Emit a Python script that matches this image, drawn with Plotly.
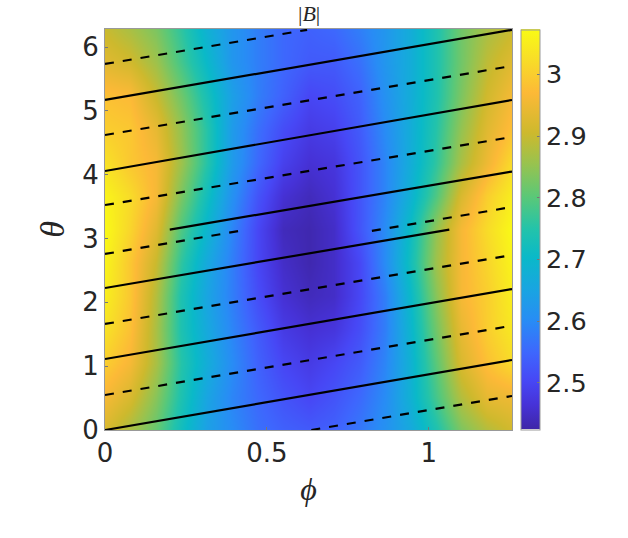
import plotly.graph_objects as go

W, H = 628, 538
L, R, T, B = 105.3, 511.7, 29.3, 430.0

phi = [0, 0.0785, 0.1571, 0.2356, 0.3142, 0.3927, 0.4712, 0.5498, 0.6283,
       0.7069, 0.7854, 0.8639, 0.9425, 1.0210, 1.0996, 1.1781, 1.2566]
theta = [0, 0.5236, 1.0472, 1.5708, 2.0944, 2.6180, 3.1416, 3.6652, 4.1888,
         4.7124, 5.2360, 5.7596, 6.2832]
B_mag = [
    [2.92, 2.87, 2.81, 2.72, 2.64, 2.60, 2.56, 2.54, 2.53, 2.54, 2.57, 2.61, 2.66, 2.74, 2.83, 2.88, 2.91],
    [2.96, 2.92, 2.84, 2.74, 2.65, 2.59, 2.55, 2.52, 2.50, 2.52, 2.55, 2.60, 2.68, 2.78, 2.88, 2.94, 2.95],
    [3.00, 2.96, 2.87, 2.75, 2.67, 2.60, 2.54, 2.50, 2.48, 2.50, 2.53, 2.59, 2.68, 2.80, 2.92, 2.98, 3.02],
    [3.03, 2.98, 2.87, 2.74, 2.66, 2.59, 2.53, 2.48, 2.46, 2.47, 2.51, 2.58, 2.69, 2.82, 2.94, 3.00, 3.04],
    [3.05, 2.99, 2.88, 2.74, 2.65, 2.58, 2.51, 2.46, 2.44, 2.45, 2.50, 2.58, 2.70, 2.84, 2.96, 3.00, 3.05],
    [3.06, 2.99, 2.90, 2.76, 2.66, 2.58, 2.50, 2.45, 2.43, 2.45, 2.50, 2.60, 2.72, 2.86, 2.96, 3.01, 3.06],
    [3.07, 3.01, 2.93, 2.79, 2.69, 2.59, 2.50, 2.44, 2.43, 2.45, 2.52, 2.60, 2.71, 2.85, 2.96, 3.02, 3.07],
    [3.06, 3.02, 2.96, 2.83, 2.72, 2.61, 2.52, 2.46, 2.44, 2.46, 2.52, 2.59, 2.68, 2.79, 2.92, 3.00, 3.05],
    [3.03, 2.99, 2.96, 2.86, 2.75, 2.63, 2.55, 2.49, 2.46, 2.47, 2.52, 2.59, 2.67, 2.76, 2.87, 2.95, 3.02],
    [3.00, 2.99, 2.94, 2.85, 2.75, 2.63, 2.56, 2.51, 2.48, 2.49, 2.53, 2.60, 2.67, 2.75, 2.85, 2.93, 2.98],
    [2.98, 2.97, 2.90, 2.82, 2.73, 2.64, 2.58, 2.54, 2.50, 2.51, 2.54, 2.61, 2.67, 2.74, 2.83, 2.91, 2.96],
    [2.93, 2.91, 2.86, 2.78, 2.70, 2.62, 2.58, 2.55, 2.53, 2.53, 2.56, 2.62, 2.67, 2.74, 2.82, 2.89, 2.93],
    [2.90, 2.87, 2.83, 2.76, 2.68, 2.62, 2.58, 2.55, 2.54, 2.55, 2.58, 2.62, 2.67, 2.74, 2.82, 2.87, 2.90],
]

solid_phi = [[0, 1.2566], [0, 1.2566], [0, 1.063], [0.2, 1.2566], [0, 1.2566], [0, 1.2566]]
solid_theta = [[0, 1.097], [1.112, 2.209], [2.225, 3.14], [3.14, 4.05], [4.058, 5.171], [5.171, 6.27]]
dashed_phi = [[0.637, 1.2566], [0, 1.2566], [0, 1.2566], [0, 0.416], [0.824, 1.2566], [0, 1.2566], [0, 1.2566], [0, 0.624]]
dashed_theta = [[0, 0.533], [0.548, 1.634], [1.661, 2.742], [2.758, 3.12], [3.12, 3.494], [3.525, 4.591], [4.622, 5.704], [5.735, 6.27]]

x_ticks = [0, 0.5, 1]
x_tick_text = ["0", "0.5", "1"]
y_ticks = [0, 1, 2, 3, 4, 5, 6]
cb_ticks = [2.5, 2.6, 2.7, 2.8, 2.9, 3.0]
cb_tick_text = ["2.5", "2.6", "2.7", "2.8", "2.9", "3"]

parula = [
    [0.00, "rgb(62,38,168)"], [0.06, "rgb(70,50,215)"], [0.12, "rgb(71,71,245)"],
    [0.19, "rgb(62,102,253)"], [0.27, "rgb(40,140,245)"], [0.35, "rgb(25,165,225)"],
    [0.43, "rgb(10,185,200)"], [0.50, "rgb(35,195,170)"], [0.58, "rgb(90,200,120)"],
    [0.66, "rgb(150,195,80)"], [0.74, "rgb(205,185,45)"], [0.84, "rgb(252,185,55)"],
    [0.92, "rgb(248,220,40)"], [1.00, "rgb(249,251,21)"],
]

FONT = "DejaVu Sans"
INK = "#262626"
pw = R - L
ph = B - T
fig = go.Figure()
fig.add_trace(go.Heatmap(
    x=phi, y=theta, z=B_mag, zmin=2.424, zmax=3.073, zsmooth="best",
    colorscale=parula, showscale=True,
    colorbar=dict(
        thickness=19, thicknessmode="pixels", len=400, lenmode="pixels",
        x=(521 - L) / pw, xanchor="left", xpad=0, y=0.5, yanchor="middle", ypad=0,
        tickvals=cb_ticks, ticktext=cb_tick_text, ticks="inside", ticklen=3,
        tickcolor="#777777", outlinecolor="#999999", outlinewidth=1,
        tickfont=dict(family=FONT, size=25.5, color=INK),
    ),
))
for xs, ys in zip(solid_phi, solid_theta):
    fig.add_trace(go.Scatter(x=xs, y=ys, mode="lines", showlegend=False,
                             line=dict(color="black", width=2.2)))
for xs, ys in zip(dashed_phi, dashed_theta):
    fig.add_trace(go.Scatter(x=xs, y=ys, mode="lines", showlegend=False,
                             line=dict(color="black", width=2.2, dash="9px,9px")))

fig.update_layout(
    width=W, height=H, autosize=False, paper_bgcolor="white", plot_bgcolor="white",
    margin=dict(l=L, r=W - R, t=T, b=H - B, pad=0), showlegend=False,
    xaxis=dict(range=[0, 1.2566], tickvals=x_ticks, ticktext=x_tick_text,
               ticks="inside", ticklen=3, tickcolor="#777777", showgrid=False, zeroline=False,
               showline=True, linecolor="#999999", linewidth=1, mirror=True,
               tickfont=dict(family=FONT, size=26, color=INK),
               title=dict(text="<i>ϕ</i>", font=dict(family="Liberation Serif", size=32, color=INK), standoff=10)),
    yaxis=dict(range=[0, 6.2832], tickvals=y_ticks,
               ticks="inside", ticklen=3, tickcolor="#777777", showgrid=False, zeroline=False,
               showline=True, linecolor="#999999", linewidth=1, mirror=True,
               tickfont=dict(family=FONT, size=26, color=INK),
               title=dict(text="<i>θ</i>", font=dict(family="Liberation Serif", size=34, color=INK), standoff=7)),
    annotations=[dict(text="|<i>B</i>|", x=(309 - L) / pw, y=(H - 14 - (H - B)) / ph, xref="paper", yref="paper",
                      showarrow=False, xanchor="center", yanchor="middle",
                      font=dict(family="Liberation Serif", size=22, color=INK))],
)
fig.write_html("out.html", config={"displayModeBar": False},
               post_script="document.body.style.margin='0';")
